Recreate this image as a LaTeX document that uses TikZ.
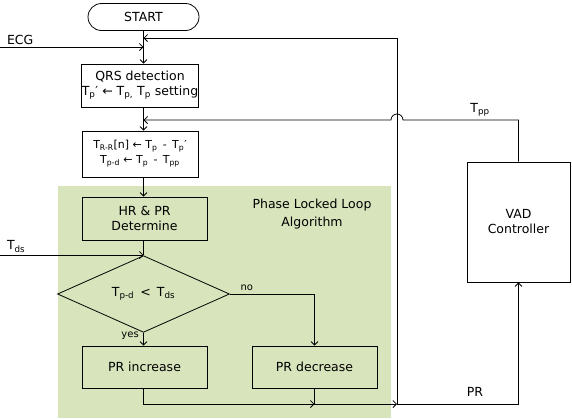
\documentclass[tikz,border=0pt]{standalone}
\usepackage{fontspec}
\setmainfont{DejaVu Sans}
\usetikzlibrary{arrows.meta,shapes.geometric}
\definecolor{plgreen}{RGB}{216,228,188}
\newcommand{\tsub}[1]{\textsubscript{#1}}

\begin{document}
\begin{tikzpicture}[x=1pt,y=-1pt,line width=0.8pt,
	arr/.style={-{Straight Barb[length=3.5pt,width=7pt]}},
	txt/.style={font=\fontsize{12.5}{15}\selectfont},
	box/.style={draw,fill=plgreen,txt,align=center,inner sep=0pt}]
		\useasboundingbox (0,0) rectangle (572,418);
		\fill[plgreen] (58,186) rectangle (391,418);
		\node[txt,align=center,font=\fontsize{12.5}{18}\selectfont] (plla) at (312,214) {Phase Locked Loop\\Algorithm};

		\node[draw,txt,rounded corners=13.5pt,minimum width=111pt,minimum height=27pt] (start) at (143.5,17) {START};
		\node[box,fill=white,minimum width=116pt,minimum height=43pt] (qrs) at (140,85.5) {QRS detection\\T\tsub{p}′ ← T\tsub{p,} T\tsub{p} setting};
		\node[box,fill=white,minimum width=116pt,minimum height=46pt,font=\fontsize{11}{15}\selectfont] (trr) at (140,154) {T\tsub{R-R}[n] ← T\tsub{p} \,-\, T\tsub{p}′\\T\tsub{p-d} ← T\tsub{p} \,-\, T\tsub{pp}};
		\node[box,minimum width=125pt,minimum height=43pt] (hr) at (144.5,218.5) {HR \& PR\\Determine};
		\node[box,diamond,minimum width=172pt,minimum height=52pt] (cmp) at (143.5,294) {T\tsub{p-d} \,<\, T\tsub{ds}};
		\node[box,minimum width=125pt,minimum height=42pt] (inc) at (144.5,367) {PR increase};
		\node[box,minimum width=125pt,minimum height=42pt] (dec) at (314.5,367) {PR decrease};
		\node[box,fill=white,minimum width=103pt,minimum height=120pt] (vad) at (518.5,222) {VAD\\Controller};

		\coordinate (ecg) at (0,47);
		\coordinate (tds) at (0,255);
		\coordinate (fb) at (397,38);
		\coordinate (tpp) at (403,120);
		\coordinate (jn) at (397,404);
		\coordinate (low) at (144,404);

		\draw[arr] (ecg) -- (ecg -| start) node[pos=0.03,above right=-1pt,txt] {ECG};
		\draw[arr] (start) -- (start |- qrs.north);
		\draw[arr] (jn) -- (fb) -- (fb -| start);
		\draw[arr] (qrs.south -| start) -- (start |- trr.north);
		\draw[arr] (vad.north) |- (tpp) arc[start angle=0,end angle=180,radius=6pt] -- (tpp -| start);
		\draw[arr] (trr.south -| start) -- (start |- hr.north);
		\draw[arr] (tds) -- (tds -| start) node[pos=0.03,above right=-1pt,txt] {T\tsub{ds}};
		\draw (hr.south -| start) -- (cmp.north);
		\draw[arr] (cmp.south) -- (cmp.south |- inc.north) node[pos=0.25,left=1pt,font=\fontsize{10}{12}\selectfont] {yes};
		\draw[arr] (cmp.east) -| (dec.north) node[pos=0.1,above,font=\fontsize{10}{12}\selectfont] {no};
		\draw[arr] (inc.south -| cmp) |- (low -| dec);
		\draw[arr] (dec.south) |- (jn);
		\draw[arr] (jn) -| (vad.south);

		\node[txt] (prl) at (475,392) {PR};
		\node[txt] (tppl) at (480,110) {T\tsub{pp}};
		\end{tikzpicture}
\end{document}
